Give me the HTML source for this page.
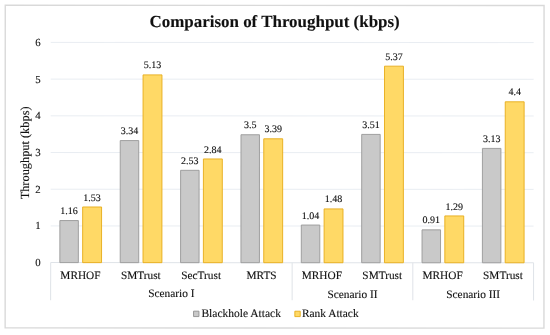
<!DOCTYPE html><html><head><meta charset="utf-8"><title>Comparison of Throughput (kbps)</title>
<style>html,body{margin:0;padding:0;background:#fff}svg{display:block}text{text-rendering:geometricPrecision;font-family:"Liberation Serif","Times New Roman",serif;fill:#111;stroke:#111;stroke-width:0.12px}</style></head><body>
<svg width="550" height="335" viewBox="0 0 550 335">
<rect x="0" y="0" width="550" height="335" fill="#fff"/>
<g transform="rotate(0.02 275 167)">
<rect x="5.2" y="5.4" width="538.8" height="322.6" fill="#fff" stroke="#d9d9d9" stroke-width="1.4"/>
<line x1="50.7" x2="533.6" y1="226.00" y2="226.00" stroke="#e6ebf1" stroke-width="0.9"/>
<line x1="50.7" x2="533.6" y1="189.30" y2="189.30" stroke="#e6ebf1" stroke-width="0.9"/>
<line x1="50.7" x2="533.6" y1="152.60" y2="152.60" stroke="#e6ebf1" stroke-width="0.9"/>
<line x1="50.7" x2="533.6" y1="115.90" y2="115.90" stroke="#e6ebf1" stroke-width="0.9"/>
<line x1="50.7" x2="533.6" y1="79.20" y2="79.20" stroke="#e6ebf1" stroke-width="0.9"/>
<line x1="50.7" x2="533.6" y1="42.50" y2="42.50" stroke="#e6ebf1" stroke-width="0.9"/>
<line x1="50.7" x2="533.6" y1="262.7" y2="262.7" stroke="#dfe3e8" stroke-width="1"/>
<line x1="50.70" x2="50.70" y1="262.7" y2="300.3" stroke="#dfe3e8" stroke-width="1"/>
<line x1="292.15" x2="292.15" y1="262.7" y2="300.3" stroke="#dfe3e8" stroke-width="1"/>
<line x1="412.88" x2="412.88" y1="262.7" y2="300.3" stroke="#dfe3e8" stroke-width="1"/>
<line x1="533.60" x2="533.60" y1="262.7" y2="300.3" stroke="#dfe3e8" stroke-width="1"/>
<text x="40.6" y="266.20" font-size="10.8" text-anchor="end">0</text>
<text x="40.6" y="229.50" font-size="10.8" text-anchor="end">1</text>
<text x="40.6" y="192.80" font-size="10.8" text-anchor="end">2</text>
<text x="40.6" y="156.10" font-size="10.8" text-anchor="end">3</text>
<text x="40.6" y="119.40" font-size="10.8" text-anchor="end">4</text>
<text x="40.6" y="82.70" font-size="10.8" text-anchor="end">5</text>
<text x="40.6" y="46.00" font-size="10.8" text-anchor="end">6</text>
<rect x="59.88" y="220.63" width="18.5" height="42.07" fill="#c9c9c9" stroke="#999" stroke-width="0.9"/>
<rect x="82.68" y="207.05" width="18.9" height="55.65" fill="#ffd966" stroke="#e6ab18" stroke-width="0.9"/>
<text x="69.13" y="214.23" font-size="10" text-anchor="middle">1.16</text>
<text x="92.13" y="200.65" font-size="10" text-anchor="middle">1.53</text>
<text x="80.48" y="279.1" font-size="11.3" text-anchor="middle">MRHOF</text>
<rect x="120.24" y="140.62" width="18.5" height="122.08" fill="#c9c9c9" stroke="#999" stroke-width="0.9"/>
<rect x="143.04" y="74.93" width="18.9" height="187.77" fill="#ffd966" stroke="#e6ab18" stroke-width="0.9"/>
<text x="129.49" y="134.22" font-size="10" text-anchor="middle">3.34</text>
<text x="152.49" y="68.53" font-size="10" text-anchor="middle">5.13</text>
<text x="140.84" y="279.1" font-size="11.3" text-anchor="middle">SMTrust</text>
<rect x="180.61" y="170.35" width="18.5" height="92.35" fill="#c9c9c9" stroke="#999" stroke-width="0.9"/>
<rect x="203.41" y="158.97" width="18.9" height="103.73" fill="#ffd966" stroke="#e6ab18" stroke-width="0.9"/>
<text x="189.86" y="163.95" font-size="10" text-anchor="middle">2.53</text>
<text x="212.86" y="152.57" font-size="10" text-anchor="middle">2.84</text>
<text x="201.21" y="279.1" font-size="11.3" text-anchor="middle">SecTrust</text>
<rect x="240.97" y="134.75" width="18.5" height="127.95" fill="#c9c9c9" stroke="#999" stroke-width="0.9"/>
<rect x="263.77" y="138.79" width="18.9" height="123.91" fill="#ffd966" stroke="#e6ab18" stroke-width="0.9"/>
<text x="250.22" y="128.35" font-size="10" text-anchor="middle">3.5</text>
<text x="273.22" y="132.39" font-size="10" text-anchor="middle">3.39</text>
<text x="261.57" y="279.1" font-size="11.3" text-anchor="middle">MRTS</text>
<rect x="301.33" y="225.03" width="18.5" height="37.67" fill="#c9c9c9" stroke="#999" stroke-width="0.9"/>
<rect x="324.13" y="208.88" width="18.9" height="53.82" fill="#ffd966" stroke="#e6ab18" stroke-width="0.9"/>
<text x="310.58" y="218.63" font-size="10" text-anchor="middle">1.04</text>
<text x="333.58" y="202.48" font-size="10" text-anchor="middle">1.48</text>
<text x="321.93" y="279.1" font-size="11.3" text-anchor="middle">MRHOF</text>
<rect x="361.69" y="134.38" width="18.5" height="128.32" fill="#c9c9c9" stroke="#999" stroke-width="0.9"/>
<rect x="384.49" y="66.12" width="18.9" height="196.58" fill="#ffd966" stroke="#e6ab18" stroke-width="0.9"/>
<text x="370.94" y="127.98" font-size="10" text-anchor="middle">3.51</text>
<text x="393.94" y="59.72" font-size="10" text-anchor="middle">5.37</text>
<text x="382.29" y="279.1" font-size="11.3" text-anchor="middle">SMTrust</text>
<rect x="422.06" y="229.80" width="18.5" height="32.90" fill="#c9c9c9" stroke="#999" stroke-width="0.9"/>
<rect x="444.86" y="215.86" width="18.9" height="46.84" fill="#ffd966" stroke="#e6ab18" stroke-width="0.9"/>
<text x="431.31" y="223.40" font-size="10" text-anchor="middle">0.91</text>
<text x="454.31" y="209.46" font-size="10" text-anchor="middle">1.29</text>
<text x="442.66" y="279.1" font-size="11.3" text-anchor="middle">MRHOF</text>
<rect x="482.42" y="148.33" width="18.5" height="114.37" fill="#c9c9c9" stroke="#999" stroke-width="0.9"/>
<rect x="505.22" y="101.72" width="18.9" height="160.98" fill="#ffd966" stroke="#e6ab18" stroke-width="0.9"/>
<text x="491.67" y="141.93" font-size="10" text-anchor="middle">3.13</text>
<text x="514.67" y="95.32" font-size="10" text-anchor="middle">4.4</text>
<text x="503.02" y="279.1" font-size="11.3" text-anchor="middle">SMTrust</text>
<text x="171.43" y="297.5" font-size="11.35" text-anchor="middle">Scenario I</text>
<text x="352.51" y="297.5" font-size="11.35" text-anchor="middle">Scenario II</text>
<text x="473.24" y="297.5" font-size="11.35" text-anchor="middle">Scenario III</text>
<text x="274.6" y="27.3" font-size="16.95" font-weight="bold" text-anchor="middle" fill="#000" stroke="none">Comparison of Throughput (kbps)</text>
<text transform="translate(29.0,153) rotate(-90)" font-size="12.35" text-anchor="middle">Throughput (kbps)</text>
<rect x="193.6" y="311.2" width="5.4" height="5.4" fill="#c9c9c9" stroke="#8f8f8f" stroke-width="0.9"/>
<text x="201.5" y="316.8" font-size="11.5">Blackhole Attack</text>
<rect x="294.9" y="311.2" width="5.4" height="5.4" fill="#ffd966" stroke="#e6ab18" stroke-width="0.9"/>
<text x="302.0" y="316.8" font-size="11.4">Rank Attack</text>
</g></svg></body></html>
